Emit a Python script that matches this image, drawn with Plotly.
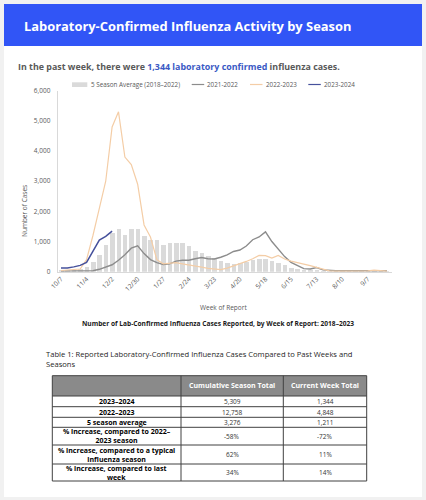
"""
Weekly lab-confirmed influenza chart with a summary table, drawn with Plotly.
"""

import plotly.graph_objects as go
import pandas as pd

W, H = 426, 500
FONT = "Open Sans"
TEXT_GRAY = "#595959"

# weekly counts, week of 10/7 onward
SEASON_START = "2023-10-07"
AVG_2018_2022 = [40, 50, 70, 110, 160, 330, 560, 880, 1290, 1430, 1240, 1420, 1430,
                 1190, 1060, 1060, 880, 970, 950, 950, 870, 710, 620, 530, 450, 360,
                 310, 280, 290, 330, 390, 420, 420, 360, 300, 220, 140, 90, 60, 50,
                 40, 30, 30, 30, 25, 25, 25, 25, 30, 30, 30, 30]
S2021_2022 = [20, 20, 25, 25, 30, 30, 80, 150, 230, 380, 560, 780, 860, 600, 400,
              300, 240, 260, 350, 380, 380, 430, 470, 430, 420, 480, 560, 670, 720,
              850, 1060, 1150, 1320, 1000, 760, 500, 310, 200, 100, 90, 140, 60, 40,
              30, 30, 30, 30, 30, 30, 30, 30, 30]
S2022_2023 = [40, 50, 60, 90, 400, 1200, 2100, 3000, 4800, 5300, 3800, 3550, 2900,
              1550, 1150, 400, 260, 270, 300, 260, 230, 200, 150, 110, 80, 70, 120,
              190, 260, 340, 430, 540, 530, 450, 540, 420, 350, 310, 250, 200, 150,
              80, 30, 20, 20, 20, 20, 20, 30, 50, 40, 20]
S2023_2024 = [120, 120, 160, 210, 310, 680, 1050, 1170, 1344]

TABLE_HEADER = ["", "Cumulative Season Total", "Current Week Total"]
TABLE_ROWS = ["2023–2024", "2022–2023", "5 season average",
              "% increase, compared to 2022–<br>2023 season",
              "% increase, compared to a typical<br>influenza season",
              "% increase, compared to last<br>week"]
CUMULATIVE = ["5,309", "12,758", "3,276", "-58%", "62%", "34%"]
CURRENT_WEEK = ["1,344", "4,848", "1,211", "-72%", "11%", "14%"]


def fx(px):
    return px / W


def fy(py):
    return 1 - py / H


def add_text(fig, x, y, text, size, color=TEXT_GRAY, xanchor="center", **kw):
    fig.add_annotation(
        text=text, x=fx(x), y=fy(y), xref="paper", yref="paper",
        xanchor=xanchor, yanchor="middle", showarrow=False,
        font=dict(family=FONT, size=size, color=color), **kw
    )


def add_rect(fig, x0, y0, x1, y1, fill, layer="below"):
    fig.add_shape(
        type="rect", xref="paper", yref="paper",
        x0=fx(x0), x1=fx(x1), y0=fy(y0), y1=fy(y1),
        fillcolor=fill, layer=layer, line=dict(width=0)
    )


def add_line(fig, x0, y0, x1, y1, color, width=1, layer="above"):
    fig.add_shape(
        type="line", xref="paper", yref="paper",
        x0=fx(x0), x1=fx(x1), y0=fy(y0), y1=fy(y1),
        layer=layer, line=dict(color=color, width=width)
    )


weeks = pd.date_range(SEASON_START, periods=len(AVG_2018_2022), freq="7D")
week_ms = 7 * 24 * 3600 * 1000

fig = go.Figure()

fig.add_trace(go.Bar(
    x=weeks, y=AVG_2018_2022, name="5 Season Average (2018–2022)",
    marker=dict(color="#dadada", line_width=0), width=0.72 * week_ms
))

series = [
    ("2021-2022", S2021_2022, "#8c8c8c", 1.4),
    ("2022-2023", S2022_2023, "#f4cda6", 1.2),
    ("2023-2024", S2023_2024, "#46519c", 1.5),
]
for name, values, color, width in series:
    fig.add_trace(go.Scatter(
        x=weeks[:len(values)], y=values, name=name, mode="lines",
        line=dict(color=color, width=width)
    ))

x_start = weeks[0] - pd.Timedelta(days=3.6)
x_end = weeks[0] + pd.Timedelta(days=362.6)

fig.update_layout(
    width=W, height=H,
    margin=dict(l=0, r=0, t=0, b=0, pad=0),
    paper_bgcolor="#f1f1f1",
    plot_bgcolor="rgba(0,0,0,0)",
    showlegend=False,
    bargap=0,
    hovermode=False,
    font=dict(family=FONT, color=TEXT_GRAY, size=7),
    xaxis=dict(
        domain=[fx(57.7), fx(392)], range=[x_start, x_end],
        type="date", tick0=SEASON_START, dtick=4 * week_ms,
        tickformat="%-m/%-d", tickangle=-45,
        tickfont=dict(size=6.5, color=TEXT_GRAY),
        showgrid=False, zeroline=False, automargin=False,
        showline=True, linecolor="#d9d9d9", linewidth=1,
    ),
    yaxis=dict(
        domain=[fy(271.7), fy(90.7)], range=[0, 6000],
        tickvals=[0, 1000, 2000, 3000, 4000, 5000, 6000], tickformat=",",
        tickfont=dict(size=6.5, color=TEXT_GRAY), ticklabelstandoff=5,
        showgrid=False, zeroline=False, automargin=False,
        showline=True, linecolor="#d9d9d9", linewidth=1,
    ),
)

# card and header
add_rect(fig, 4, 4, 422, 497, "#ffffff")
add_rect(fig, 4, 4, 422, 46, "#3155f6")
add_text(fig, 22, 25.5, "<b>Laboratory-Confirmed Influenza Activity by Season</b>",
         12.9, color="#ffffff", xanchor="left")
add_text(fig, 16, 66,
         "<b>In the past week, there were <span style='color:#3a59c4'>1,344 laboratory "
         "confirmed</span> influenza cases.</b>", 8.9, color="#595959", xanchor="left")

# legend
add_rect(fig, 72, 82.3, 87.3, 87, "#dadada")
add_text(fig, 89, 84.5, "5 Season Average (2018–2022)", 6.3, xanchor="left")
legend_items = [(191.7, "2021-2022", "#8c8c8c"), (250, "2022-2023", "#f4cda6"),
                (308.3, "2023-2024", "#46519c")]
for x0, label, color in legend_items:
    add_line(fig, x0, 84.5, x0 + 12.5, 84.5, color, 1.2)
    add_text(fig, x0 + 13.5, 84.5, label, 6.3, xanchor="left")

# axis titles and caption
add_text(fig, 25, 211, "Number of Cases", 6.5, textangle=-90)
add_text(fig, 223, 307.7, "Week of Report", 6.5)
add_text(fig, 218, 323,
         "<b>Number of Lab-Confirmed Influenza Cases Reported, by Week of Report: 2018–2023</b>",
         6.6, color="#1a1a1a")

# table
add_text(fig, 44, 359,
         "Table 1: Reported Laboratory-Confirmed Influenza Cases Compared to Past Weeks and"
         "<br>Seasons", 7.6, color="#262626", xanchor="left", align="left")

col_x = [52.3, 181, 283.3, 366.7]
row_y = [375.7, 396, 406.7, 417.3, 427.3, 445, 464, 481]
border = "#404040"
add_rect(fig, col_x[0], row_y[0], col_x[-1], row_y[1], "#8a8a8a")
for y in row_y:
    add_line(fig, col_x[0], y, col_x[-1], y, border)
for x in col_x:
    add_line(fig, x, row_y[0], x, row_y[-1], border)

for c, label in enumerate(TABLE_HEADER):
    if label:
        add_text(fig, (col_x[c] + col_x[c + 1]) / 2, (row_y[0] + row_y[1]) / 2,
                 f"<b>{label}</b>", 7, color="#ffffff")

for r, label in enumerate(TABLE_ROWS):
    yc = (row_y[r + 1] + row_y[r + 2]) / 2
    add_text(fig, (col_x[0] + col_x[1]) / 2, yc, f"<b>{label}</b>", 7,
             color="#000000")
    add_text(fig, (col_x[1] + col_x[2]) / 2, yc, CUMULATIVE[r], 6.5, color="#333333")
    add_text(fig, (col_x[2] + col_x[3]) / 2, yc, CURRENT_WEEK[r], 6.5, color="#333333")

# default page margin would push the 426x500 figure out of the window
fig.write_html(
    "out.html",
    config={"displayModeBar": False},
    post_script=("document.documentElement.style.margin = '0';"
                 "document.body.style.margin = '0';"
                 "document.body.style.overflow = 'hidden';"),
)
